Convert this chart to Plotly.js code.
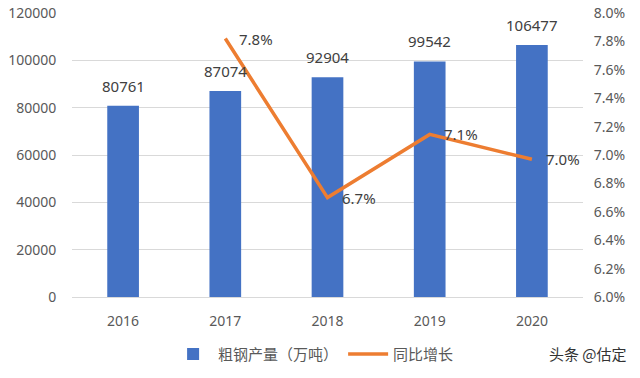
<!DOCTYPE html>
<html>
<head>
<meta charset="utf-8">
<script src="https://cdn.plot.ly/plotly-3.0.1.min.js"></script>
<style>html,body{margin:0;padding:0;background:#fff;}#chart{width:640px;height:378px;}</style>
</head>
<body>
<div id="chart"></div>
<script>
const years = ['2016', '2017', '2018', '2019', '2020'];
const output = [80761, 87074, 92904, 99542, 106477];
const growthYears = ['2017', '2018', '2019', '2020'];
const growth = [7.82, 6.70, 7.145, 6.97];
const barName = '粗钢产量（万吨）';
const lineName = '同比增长';

const font = '"Noto Sans", "Noto Sans CJK SC", sans-serif';
const labelFont = {family: font, size: 15, color: '#404040'};

const traces = [
  {
    type: 'bar', x: years, y: output, name: barName,
    marker: {color: '#4472C4'},
    hoverinfo: 'x+y'
  },
  {
    type: 'scatter', mode: 'lines', x: growthYears, y: growth, name: lineName,
    yaxis: 'y2',
    line: {color: '#ED7D31', width: 3.5}
  }
];

// category axis: annotation x given as category index
const barLabels = years.map((yr, i) => ({
  x: years.indexOf(yr), y: output[i], xref: 'x', yref: 'y',
  text: String(output[i]), showarrow: false,
  xanchor: 'center', yanchor: 'bottom', yshift: 8,
  font: labelFont
}));
const lineLabels = growthYears.map((yr, i) => ({
  x: years.indexOf(yr), y: growth[i], xref: 'x', yref: 'y2',
  text: growth[i].toFixed(1) + '%', showarrow: false,
  xanchor: 'left', yanchor: 'middle', xshift: 12,
  font: labelFont
}));

const layout = {
  width: 640, height: 378,
  margin: {l: 72, r: 57, t: 13, b: 81},
  paper_bgcolor: '#ffffff', plot_bgcolor: '#ffffff',
  font: {family: font, size: 14, color: '#595959'},
  bargap: 0.69,
  showlegend: true,
  legend: {
    orientation: 'h', xref: 'container', yref: 'container',
    x: 0.49, xanchor: 'center', y: 0.063, yanchor: 'middle',
    font: {family: font, size: 15, color: '#595959'},
    itemwidth: 40, traceorder: 'normal'
  },
  xaxis: {
    type: 'category', categoryarray: years, categoryorder: 'array',
    range: [-0.5, years.length - 0.5],
    showgrid: false, zeroline: false, showline: false,
    ticks: 'outside', ticklen: 11, tickcolor: 'rgba(0,0,0,0)',
    tickfont: {size: 14, color: '#595959'}
  },
  yaxis: {
    range: [0, 120000], dtick: 20000, tickformat: 'd',
    showgrid: true, gridcolor: '#D9D9D9', gridwidth: 1,
    zeroline: true, zerolinecolor: '#D9D9D9', showline: false,
    ticks: 'outside', ticklen: 12, tickcolor: 'rgba(0,0,0,0)',
    tickfont: {size: 14, color: '#595959'}
  },
  yaxis2: {
    overlaying: 'y', side: 'right',
    range: [6.0, 8.0], dtick: 0.2, tickformat: '.1f', ticksuffix: '%',
    showgrid: false, zeroline: false, showline: false,
    ticks: 'outside', ticklen: 7, tickcolor: 'rgba(0,0,0,0)',
    tickfont: {size: 14, color: '#595959'}
  },
  annotations: barLabels.concat(lineLabels, [
    {
      xref: 'paper', yref: 'paper', x: 1.09, y: -0.2, xanchor: 'right', yanchor: 'middle',
      text: '头条 @估定', showarrow: false,
      font: {family: '"Noto Sans CJK SC", sans-serif', size: 15, color: '#333333'}
    }
  ])
};

Plotly.newPlot('chart', traces, layout, {displayModeBar: false, staticPlot: true});
</script>
</body>
</html>
